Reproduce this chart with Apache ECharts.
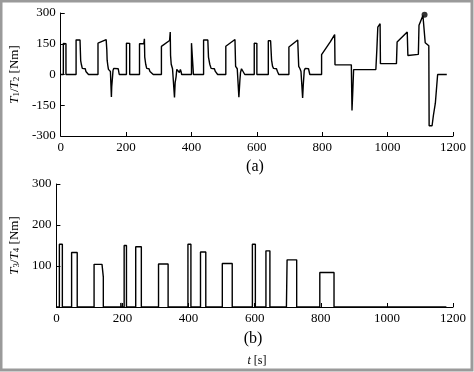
<!DOCTYPE html>
<html>
<head>
<meta charset="utf-8">
<script src="https://cdn.jsdelivr.net/npm/echarts@6/dist/echarts.min.js"></script>
<style>
html,body{margin:0;padding:0;background:#fff;}
#c{width:474px;height:372px;}
</style>
</head>
<body>
<div id="c"></div>
<script>
// ---- Data ----
var xTicks = [0, 200, 400, 600, 800, 1000, 1200];
var topYTicks = [-300, -150, 0, 150, 300];
var bottomYTicks = [0, 100, 200, 300];

// T1/T2 torque [Nm] vs time [s]
var topTime = [
  0, 8, 8, 16, 16,
  47, 47, 59, 61, 61, 63, 66, 75, 77, 82, 85,
  114, 114, 139, 141, 141, 142, 144, 146, 150, 152, 155, 156, 158, 160, 162, 176, 179,
  201, 201, 211, 211,
  241, 241, 254, 256, 257, 260, 263, 270, 273, 278, 283,
  308, 308, 333, 335, 336, 338, 342, 345, 348, 350, 353, 355, 358, 361, 363, 366, 368, 370,
  400, 400, 406, 406,
  437, 437, 450, 452, 456, 460, 470, 473, 477, 480,
  505, 505, 533, 535, 535, 540, 545, 548, 550, 553, 558, 563,
  592, 592, 600, 600,
  635, 635, 642, 644, 645, 648, 651, 660, 663, 667,
  698, 698, 725, 727, 728, 732, 735, 740, 742, 745, 748, 758, 762,
  798, 798, 810, 825, 838, 839, 889, 890, 891, 893, 896, 964, 967, 970, 977, 978,
  1027, 1028, 1029, 1060, 1062, 1064, 1094, 1096, 1108, 1113, 1115, 1126, 1127, 1136,
  1140, 1146, 1150, 1153, 1181
];
var topTorque = [
  0, 0, 152, 150, 0,
  0, 169, 168, 165, 68, 50, 30, 28, 15, 15, 0,
  0, 153, 170, 170, 120, 70, 45, 25, 20, 15, -110, -60, -20, 20, 30, 28, 0,
  0, 153, 152, 0,
  0, 150, 150, 174, 85, 50, 30, 28, 15, 15, 0,
  0, 137, 166, 207, 93, 50, 28, 20, -112, -40, -10, 25, 30, 25, 10, 25, 15, 0,
  0, 153, 152, 0,
  0, 169, 168, 85, 50, 30, 28, 15, 12, 0,
  0, 138, 171, 171, 40, 28, -111, -30, 10, 28, 25, 0,
  0, 153, 152, 0,
  0, 165, 165, 174, 70, 40, 30, 28, 15, 0,
  0, 134, 168, 168, 40, 28, 15, -114, -50, 20, 30, 28, 0,
  0, 97, 125, 160, 195, 47, 47, 40, -176, -100, 24, 24, 120, 231, 248, 53,
  53, 45, 158, 207, 93, 98, 98, 240, 288, 292, 155, 140, -250, -250,
  -200, -140, -60, 0, 0
];
var peakTime = [1113];
var peakTorque = [292];

// T3/T4 torque [Nm] vs time [s]
var bottomTime = [
  0, 9, 9, 18, 18,
  46, 46, 63, 63,
  114, 114, 138, 142, 142,
  195, 195, 196,
  205, 205, 212, 212,
  240, 240, 257, 257,
  309, 309, 338, 338,
  398, 398, 407, 407,
  436, 436, 452, 452,
  502, 502, 532, 532,
  593, 593, 602, 602,
  634, 634, 646, 646,
  696, 698, 727, 727,
  797, 797, 840, 840,
  1180
];
var bottomTorque = [
  0, 0, 153, 153, 0,
  0, 133, 133, 0,
  0, 104, 104, 73, 0,
  0, 10, 0,
  0, 150, 150, 0,
  0, 147, 147, 0,
  0, 105, 105, 0,
  0, 153, 153, 0,
  0, 134, 134, 0,
  0, 106, 106, 0,
  0, 153, 153, 0,
  0, 137, 137, 0,
  0, 115, 115, 0,
  0, 84, 84, 0,
  0
];

function zip(a, b) { return a.map(function (v, i) { return [v, b[i]]; }); }

var FONT = '"Liberation Serif", "DejaVu Serif", serif';
var axisCommon = {
  axisLine: { onZero: false, lineStyle: { color: '#000', width: 1 } },
  axisTick: { inside: true, length: 4, lineStyle: { color: '#000', width: 1 } },
  splitLine: { show: false },
  axisLabel: { color: '#000', fontFamily: FONT, fontSize: 13, formatter: function (v) { return String(v); } }
};
function xAxis(grid) {
  return Object.assign({}, axisCommon, {
    type: 'value', gridIndex: grid, min: xTicks[0], max: xTicks[xTicks.length - 1],
    interval: xTicks[1] - xTicks[0], position: 'bottom',
    axisLabel: Object.assign({}, axisCommon.axisLabel, { margin: 5 })
  });
}
var nameRich = {
  i: { fontFamily: FONT, fontSize: 13, fontStyle: 'italic', fontWeight: 'normal', color: '#000' },
  s: { fontFamily: FONT, fontSize: 9, fontStyle: 'normal', fontWeight: 'normal', color: '#000', verticalAlign: 'bottom', lineHeight: 5 },
  n: { fontFamily: FONT, fontSize: 13, fontWeight: 'normal', color: '#000' }
};

var chart = echarts.init(document.getElementById('c'), null, { renderer: 'canvas' });
chart.setOption({
  backgroundColor: '#fff',
  animation: false,
  grid: [
    { left: 51, right: 21, top: 13, height: 123 },
    { left: 51, right: 21, top: 184, height: 123 }
  ],
  title: [
    { text: '(a)', left: 250, top: 154, textAlign: 'center',
      textStyle: { fontFamily: FONT, fontSize: 16, fontWeight: 'normal', color: '#000' } },
    { text: '(b)', left: 248, top: 326, textAlign: 'center',
      textStyle: { fontFamily: FONT, fontSize: 16, fontWeight: 'normal', color: '#000' } },
    { text: '{i|t}{n| [s]}', left: 252, top: 350, textAlign: 'center',
      textStyle: { fontWeight: 'normal', rich: {
        i: { fontFamily: FONT, fontSize: 12, fontStyle: 'italic', fontWeight: 'normal', color: '#000' },
        n: { fontFamily: FONT, fontSize: 12, fontWeight: 'normal', color: '#000' } } } }
  ],
  xAxis: [xAxis(0), xAxis(1)],
  yAxis: [
    Object.assign({}, axisCommon, {
      type: 'value', gridIndex: 0, min: topYTicks[0], max: topYTicks[topYTicks.length - 1],
      interval: topYTicks[1] - topYTicks[0],
      axisLabel: Object.assign({}, axisCommon.axisLabel, { margin: 5 }),
      name: '{i|T}{s|1}{n|/}{i|T}{s|2}{n| [Nm]}', nameLocation: 'middle', nameGap: 32, nameRotate: 90,
      nameTextStyle: { rich: nameRich }
    }),
    Object.assign({}, axisCommon, {
      type: 'value', gridIndex: 1, min: bottomYTicks[0], max: bottomYTicks[bottomYTicks.length - 1],
      interval: bottomYTicks[1] - bottomYTicks[0],
      axisLabel: Object.assign({}, axisCommon.axisLabel, { margin: 5, showMinLabel: false }),
      name: '{i|T}{s|3}{n|/}{i|T}{s|4}{n| [Nm]}', nameLocation: 'middle', nameGap: 32, nameRotate: 90,
      nameTextStyle: { rich: nameRich }
    })
  ],
  series: [
    { type: 'line', xAxisIndex: 0, yAxisIndex: 0, data: zip(topTime, topTorque),
      symbol: 'none', lineStyle: { color: '#000', width: 1.4 }, z: 3 },
    { type: 'scatter', xAxisIndex: 0, yAxisIndex: 0, data: zip(peakTime, peakTorque),
      symbol: 'circle', symbolSize: 6, itemStyle: { color: '#000' }, z: 4 },
    { type: 'line', xAxisIndex: 1, yAxisIndex: 1, data: zip(bottomTime, bottomTorque),
      symbol: 'none', lineStyle: { color: '#000', width: 1.4 }, z: 3 }
  ],
  graphic: [
    { type: 'rect', shape: { x: 1, y: 1, width: 471, height: 369 }, silent: true,
      style: { fill: 'none', stroke: '#9a9a9a', lineWidth: 3 }, z: 100 }
  ]
});
</script>
</body>
</html>
